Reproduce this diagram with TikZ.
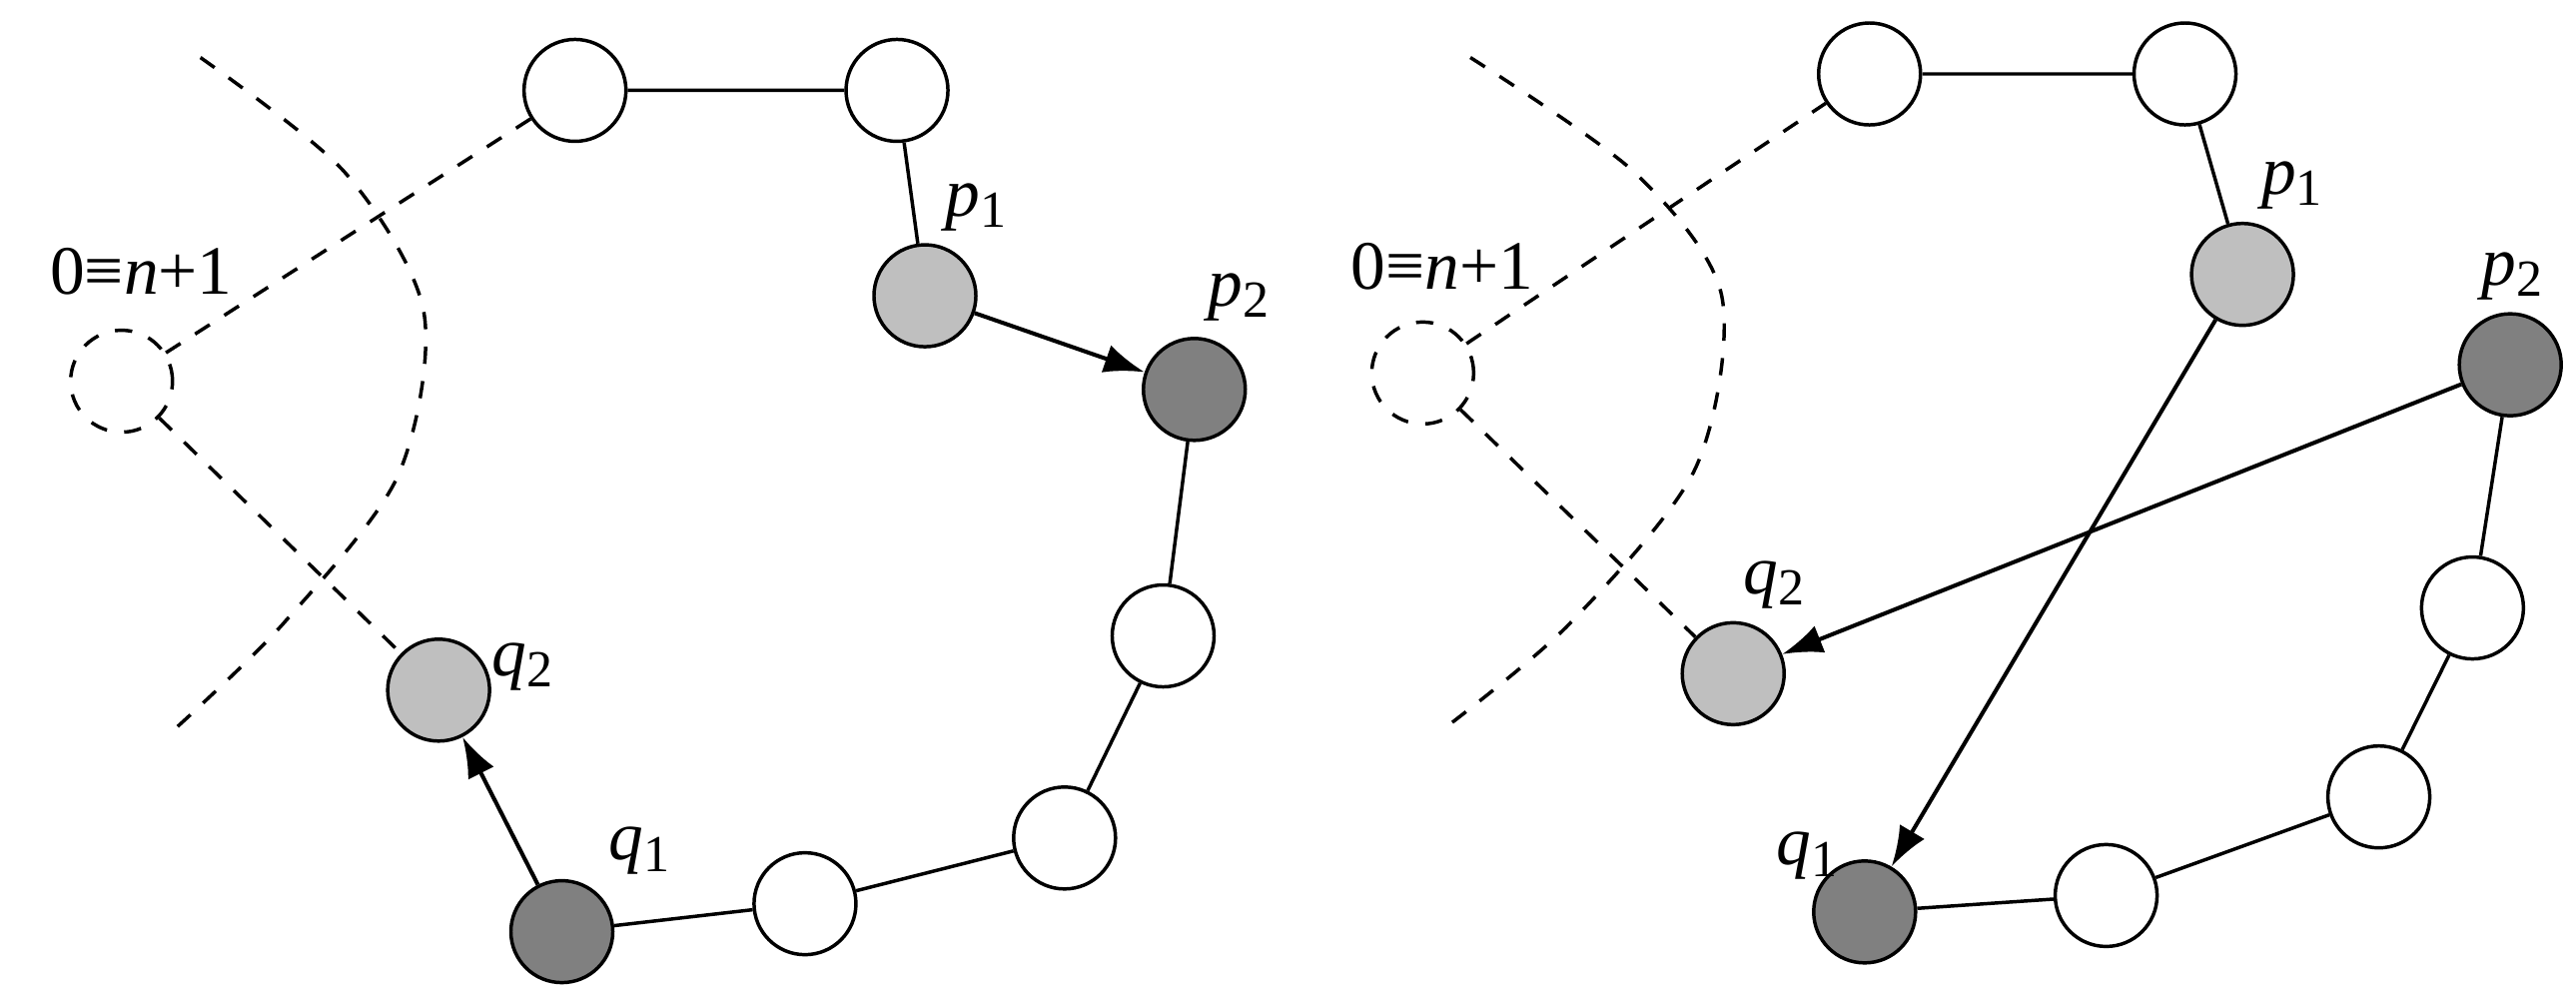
\documentclass[tikz,border=0pt]{standalone}
\usepackage{fontspec}
\setmainfont{Liberation Serif}
\usetikzlibrary{arrows.meta}
\newcommand{\vlab}[2]{\textit{#1}\raisebox{-0.35ex}{\fontsize{9}{10}\selectfont #2}}
\begin{document}
\begin{tikzpicture}[x=0.01cm,y=-0.01cm,
  vtx/.style={circle,draw,line width=0.6pt,minimum size=0.62cm,inner sep=0pt},
  wn/.style={vtx,fill=white},
  lg/.style={vtx,fill=black!25},
  dg/.style={vtx,fill=black!50},
  dn/.style={vtx,dashed},
  lab/.style={font=\fontsize{12}{14}\selectfont,inner sep=0pt},
  edge/.style={line width=0.6pt},
  arr/.style={line width=0.7pt,-{Latex[length=7pt,width=5pt]}},
  dl/.style={dashed,line width=0.6pt}]
\useasboundingbox (0,0) rectangle (1568,612);
% left
\node[dn] (L0) at (74,232) {};
\node[wn] (LA1) at (350,55) {};
\node[wn] (LA2) at (546,55) {};
\node[lg] (Lp1) at (563,180) {};
\node[dg] (Lp2) at (727,237) {};
\node[wn] (LB1) at (708,387) {};
\node[wn] (LB2) at (648,510) {};
\node[wn] (LB3) at (490,550) {};
\node[dg] (Lq1) at (342,567) {};
\node[lg] (Lq2) at (267,420) {};
\node[lab] (Llz) at (86,165) {0≡\textit{n}+1};
\node[lab] (Llp1) at (594,126) {\vlab{p}{1}};
\node[lab] (Llp2) at (754,181) {\vlab{p}{2}};
\node[lab] (Llq2) at (318,406) {\vlab{q}{2}};
\node[lab] (Llq1) at (389,518) {\vlab{q}{1}};
\draw[edge] (LA1)--(LA2) (LA2)--(Lp1) (Lp2)--(LB1) (LB1)--(LB2) (LB2)--(LB3) (LB3)--(Lq1);
\draw[arr] (Lp1)--(Lp2);
\draw[arr] (Lq1)--(Lq2);
\draw[dl] (L0)--(LA1) (L0)--(Lq2);
\draw[dl] plot[smooth] coordinates{(122,35)(210,105)(258,190)(242,290)(172,380)(105,445)};
% right
\node[dn] (R0) at (866,227) {};
\node[wn] (RA1) at (1138,45) {};
\node[wn] (RA2) at (1330,45) {};
\node[lg] (Rp1) at (1365,167) {};
\node[dg] (Rp2) at (1528,222) {};
\node[wn] (RB1) at (1505,370) {};
\node[wn] (RB2) at (1448,485) {};
\node[wn] (RB3) at (1282,545) {};
\node[dg] (Rq1) at (1135,555) {};
\node[lg] (Rq2) at (1055,410) {};
\node[lab] (Rlz) at (878,162) {0≡\textit{n}+1};
\node[lab] (Rlp1) at (1395,113) {\vlab{p}{1}};
\node[lab] (Rlp2) at (1529,168) {\vlab{p}{2}};
\node[lab] (Rlq2) at (1080,356) {\vlab{q}{2}};
\node[lab] (Rlq1) at (1100,521) {\vlab{q}{1}};
\draw[edge] (RA1)--(RA2) (RA2)--(Rp1) (Rp2)--(RB1) (RB1)--(RB2) (RB2)--(RB3) (RB3)--(Rq1);
\draw[arr] (Rp1)--(Rq1);
\draw[arr] (Rp2)--(Rq2);
\draw[dl] (R0)--(RA1) (R0)--(Rq2);
\draw[dl] plot[smooth] coordinates{(895,35)(995,105)(1048,180)(1032,285)(955,380)(877,445)};
\end{tikzpicture}
\end{document}
